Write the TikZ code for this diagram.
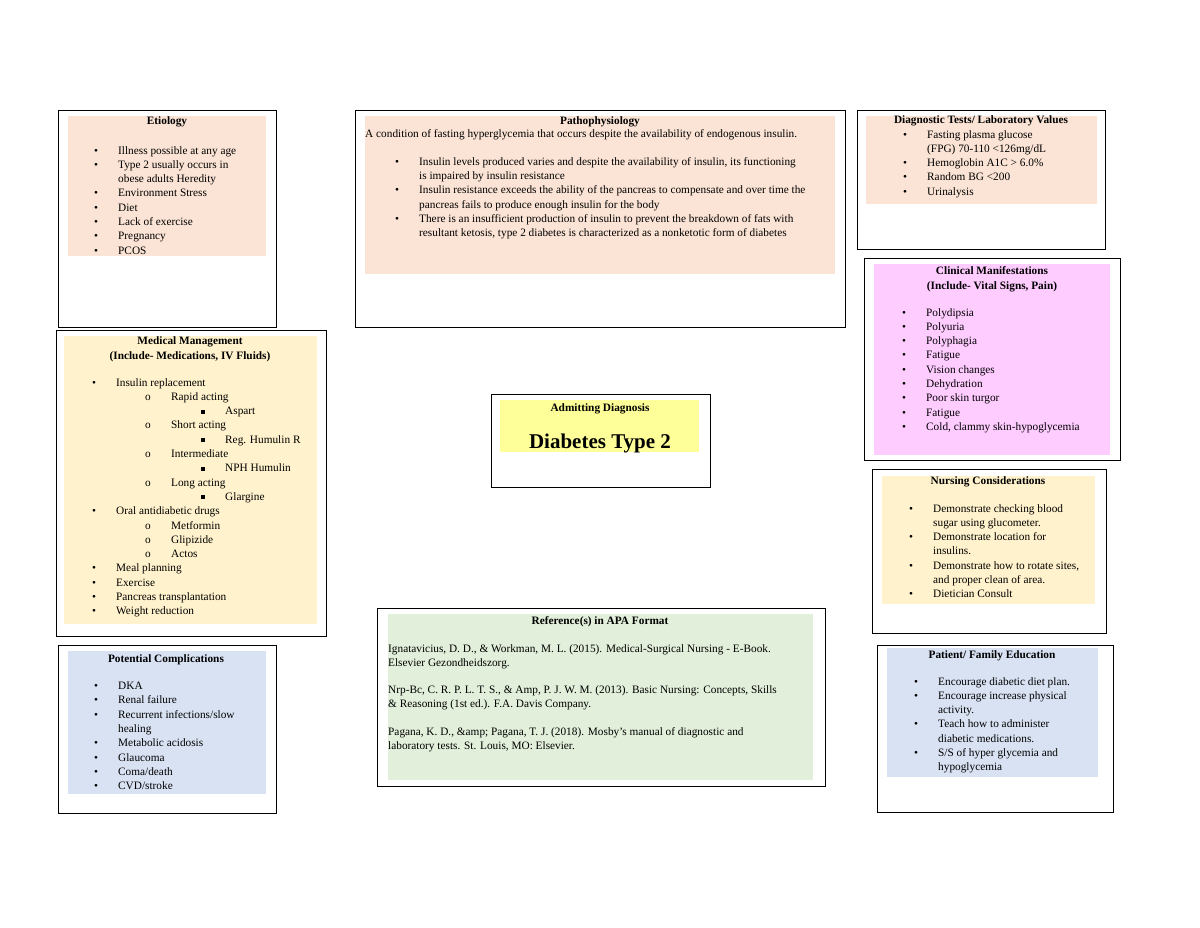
\documentclass[tikz,border=0pt]{standalone}
\usepackage{fontspec}
\setmainfont{Liberation Serif}
\definecolor{peach}{HTML}{FBE4D5}
\definecolor{pinkish}{HTML}{FFCCFF}
\definecolor{cream}{HTML}{FFF2CC}
\definecolor{mint}{HTML}{E2EFDA}
\definecolor{sky}{HTML}{D9E2F3}
\definecolor{lemon}{HTML}{FFFF99}
\newcommand\Lone[1]{\makebox[24pt][l]{\textbullet}#1\\}
\newcommand\Cone[1]{\hspace*{24pt}#1\\}
\newcommand\Ltwo[1]{\hspace*{53pt}\makebox[26pt][l]{o}#1\\}
\newcommand\Lthree[1]{\hspace*{109pt}\makebox[24pt][l]{\rule[1pt]{4pt}{4pt}}#1}
\begin{document}
\begin{tikzpicture}[x=1pt,y=-1pt,
  frame/.style={draw=black, line width=0.8pt},
  txt/.style={anchor=north west, inner sep=0pt, align=left, font=\fontsize{11.3}{14.3}\selectfont},
  ttl/.style={inner sep=0pt, align=center, font=\fontsize{11.3}{14.6}\selectfont\bfseries}
  ]
\useasboundingbox (0,0) rectangle (1200,927);
\fill[white] (0,0) rectangle (1200,927);
% frames and fills
\draw[frame] (58,110) rectangle (276,327);
\fill[peach] (68,116) rectangle (266,256);
\draw[frame] (355,110) rectangle (845,327);
\fill[peach] (365,116) rectangle (835,274);
\draw[frame] (857,110) rectangle (1105,249);
\fill[peach] (866,116) rectangle (1097,204);
\draw[frame] (864,258) rectangle (1120,460);
\fill[pinkish] (874,264) rectangle (1110,455);
\draw[frame] (56,330) rectangle (326,636);
\fill[cream] (64,336) rectangle (317,624);
\draw[frame] (491,394) rectangle (710,487);
\fill[lemon] (500,400) rectangle (699,452);
\draw[frame] (872,469) rectangle (1106,633);
\fill[cream] (882,476) rectangle (1095,604);
\draw[frame] (377,608) rectangle (825,786);
\fill[mint] (388,614) rectangle (813,780);
\draw[frame] (58,645) rectangle (276,813);
\fill[sky] (68,651) rectangle (266,794);
\draw[frame] (877,645) rectangle (1113,812);
\fill[sky] (887,648) rectangle (1098,777);
% etiology
\node[ttl] (etiT) at (167,122) {Etiology};
\node[txt] (etiL) at (94,146) {\Lone{Illness possible at any age}\Lone{Type 2 usually occurs in}\Cone{obese adults Heredity}\Lone{Environment Stress}\Lone{Diet}\Lone{Lack of exercise}\Lone{Pregnancy}\Lone{PCOS}};
% pathophysiology
\node[ttl] (patT) at (600,122) {Pathophysiology};
\node[txt] (patA) at (365,129) {A condition of fasting hyperglycemia that occurs despite the availability of endogenous insulin.};
\node[txt] (patL) at (395,157) {\Lone{Insulin levels produced varies and despite the availability of insulin, its functioning}\Cone{is impaired by insulin resistance}\Lone{Insulin resistance exceeds the ability of the pancreas to compensate and over time the}\Cone{pancreas fails to produce enough insulin for the body}\Lone{There is an insufficient production of insulin to prevent the breakdown of fats with}\Cone{resultant ketosis, type 2 diabetes is characterized as a nonketotic form of diabetes}};
% diagnostic tests
\node[ttl] (diaT) at (981,121) {Diagnostic Tests/ Laboratory Values};
\node[txt] (diaL) at (903,130) {\Lone{Fasting plasma glucose}\Cone{(FPG) 70-110 <126mg/dL}\Lone{Hemoglobin A1C > 6.0\%}\Lone{Random BG <200}\Lone{Urinalysis}};
% clinical manifestations
\node[ttl] (cliT) at (992,279) {Clinical Manifestations\\(Include- Vital Signs, Pain)};
\node[txt] (cliL) at (902,308) {\Lone{Polydipsia}\Lone{Polyuria}\Lone{Polyphagia}\Lone{Fatigue}\Lone{Vision changes}\Lone{Dehydration}\Lone{Poor skin turgor}\Lone{Fatigue}\Lone{Cold, clammy skin-hypoglycemia}};
% medical management
\node[ttl] (medT) at (190,349) {Medical Management\\(Include- Medications, IV Fluids)};
\node[txt] (medL) at (92,378) {\Lone{Insulin replacement}\Ltwo{Rapid acting}\Lthree{Aspart}\\\Ltwo{Short acting}\Lthree{Reg. Humulin R}\\\Ltwo{Intermediate}\Lthree{NPH Humulin}\\\Ltwo{Long acting}\Lthree{Glargine}\\\Lone{Oral antidiabetic drugs}\Ltwo{Metformin}\Ltwo{Glipizide}\Ltwo{Actos}\Lone{Meal planning}\Lone{Exercise}\Lone{Pancreas transplantation}\Lone{Weight reduction}};
% admitting diagnosis
\node[ttl] (admT) at (600,409) {Admitting Diagnosis};
\node[inner sep=0pt, font=\fontsize{21}{24}\selectfont\bfseries] (admD) at (600,443) {Diabetes Type 2};
% nursing considerations
\node[ttl] (nurT) at (988,482) {Nursing Considerations};
\node[txt] (nurL) at (909,504) {\Lone{Demonstrate checking blood}\Cone{sugar using glucometer.}\Lone{Demonstrate location for}\Cone{insulins.}\Lone{Demonstrate how to rotate sites,}\Cone{and proper clean of area.}\Lone{Dietician Consult}};
% references
\node[ttl] (refT) at (600,622) {Reference(s) in APA Format};
\node[txt] (refL) at (388,644) {Ignatavicius, D. D., \& Workman, M. L. (2015). Medical-Surgical Nursing - E-Book.\\Elsevier Gezondheidszorg.\\[13pt]Nrp-Bc, C. R. P. L. T. S., \& Amp, P. J. W. M. (2013). Basic Nursing: Concepts, Skills\\\& Reasoning (1st ed.). F.A. Davis Company.\\[13pt]Pagana, K. D., \&amp; Pagana, T. J. (2018). Mosby's manual of diagnostic and\\laboratory tests. St. Louis, MO: Elsevier.};
% potential complications
\node[ttl] (potT) at (166,660) {Potential Complications};
\node[txt] (potL) at (94,682) {\Lone{DKA}\Lone{Renal failure}\Lone{Recurrent infections/slow}\Cone{healing}\Lone{Metabolic acidosis}\Lone{Glaucoma}\Lone{Coma/death}\Lone{CVD/stroke}};
% patient education
\node[ttl] (patE) at (992,656) {Patient/ Family Education};
\node[txt] (patEL) at (914,677) {\Lone{Encourage diabetic diet plan.}\Lone{Encourage increase physical}\Cone{activity.}\Lone{Teach how to administer}\Cone{diabetic medications.}\Lone{S/S of hyper glycemia and}\Cone{hypoglycemia}};
\end{tikzpicture}
\end{document}
